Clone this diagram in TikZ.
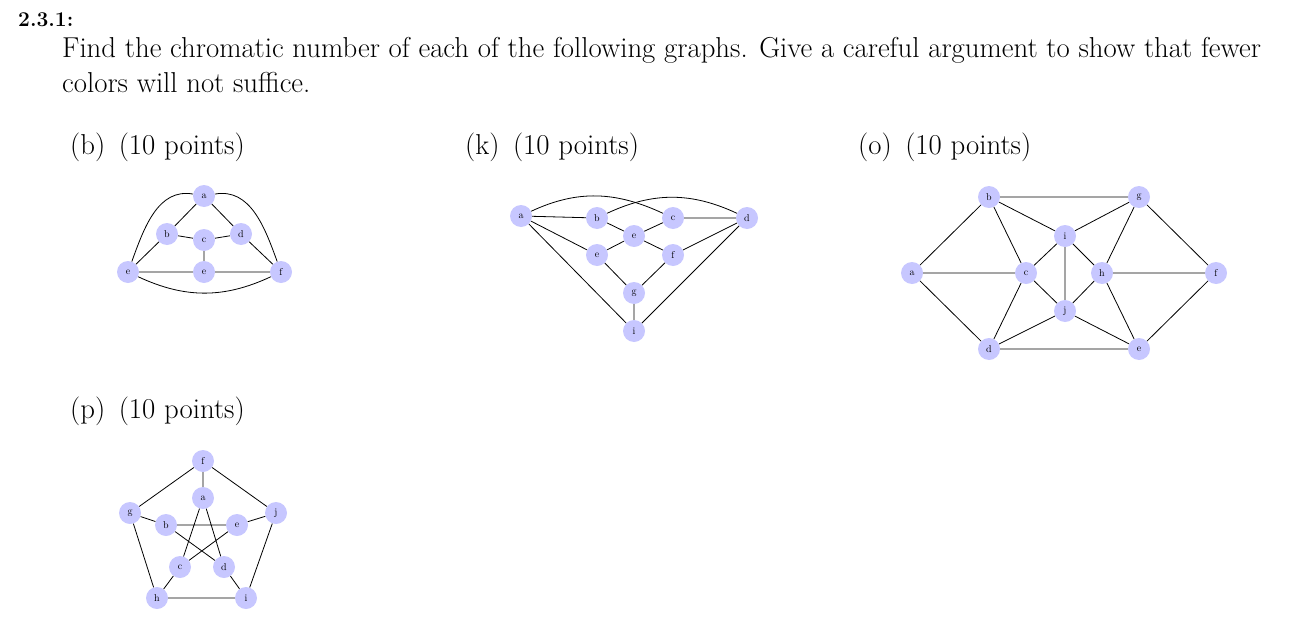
\documentclass[tikz,border=0pt]{standalone}
\begin{document}
\begin{tikzpicture}[x=1pt,y=-1pt,
 v/.style={circle,fill=blue!22,inner sep=0pt,minimum size=22pt,font=\fontsize{10}{10}\selectfont},
 e/.style={line width=0.8pt},
 txt/.style={anchor=west,inner sep=0pt,font=\fontsize{28.8}{33}\selectfont}]
\useasboundingbox (0,0) rectangle (1300,618);
\node[txt,font=\fontsize{21}{25}\selectfont\bfseries] (t0) at (18,20) {2.3.1:};
\node[txt] (t1) at (62,50) {Find the chromatic number of each of the following graphs. Give a careful argument to show that fewer};
\node[txt] (t2) at (62,83) {colors will not suffice.};
\node[txt] (lb) at (70,147) {(b)\, (10 points)};
\node[txt] (lk) at (465,147) {(k)\, (10 points)};
\node[txt] (lo) at (858,147) {(o)\, (10 points)};
\node[txt] (lp) at (70,411) {(p)\, (10 points)};
% (b)
\node[v] (a) at (204,196) {a}; \node[v] (b) at (167,234) {b}; \node[v] (c) at (204,240) {c};
\node[v] (d) at (241,234) {d}; \node[v] (e) at (128,272) {e}; \node[v] (e2) at (204,272) {e};
\node[v] (f) at (281,272) {f};
\draw[e] (a)--(b) (a)--(d) (b)--(c) (c)--(d) (c)--(e2) (b)--(e) (d)--(f) (e)--(e2) (e2)--(f);
\draw[e] (e) to[out=70,in=170] (a); \draw[e] (a) to[out=10,in=110] (f);
\draw[e] (e) to[out=-25,in=-155] (f);
% (k)
\node[v] (ka) at (521,216) {a}; \node[v] (kb) at (597,218) {b}; \node[v] (kc) at (673,218) {c};
\node[v] (kd) at (747,218) {d}; \node[v] (ke) at (634,236) {e}; \node[v] (ke2) at (597,255) {e};
\node[v] (kf) at (673,255) {f}; \node[v] (kg) at (634,293) {g}; \node[v] (ki) at (634,331) {i};
\draw[e] (ka)--(kb) (kc)--(kd) (kb)--(ke) (ke)--(kf) (kc)--(ke) (ke)--(ke2) (ka)--(ke2) (ka)--(ki)
 (kd)--(kf) (kd)--(ki) (ke2)--(kg) (kf)--(kg) (kg)--(ki);
\draw[e] (ka) to[out=25,in=155] (kc); \draw[e] (kb) to[out=25,in=155] (kd);
% (o)
\node[v] (oa) at (912,273) {a}; \node[v] (ob) at (989,197) {b}; \node[v] (oc) at (1026,273) {c};
\node[v] (od) at (989,349) {d}; \node[v] (oe) at (1139,349) {e}; \node[v] (of) at (1216,273) {f};
\node[v] (og) at (1139,197) {g}; \node[v] (oh) at (1102,273) {h}; \node[v] (oi) at (1065,236) {i};
\node[v] (oj) at (1065,311) {j};
\draw[e] (oa)--(ob) (oa)--(oc) (oa)--(od) (ob)--(og) (ob)--(oi) (ob)--(oc) (oc)--(oi) (oc)--(oj)
 (oc)--(od) (od)--(oj) (od)--(oe) (oi)--(og) (oi)--(oj) (oi)--(oh) (oh)--(oj) (og)--(oh) (og)--(of)
 (oh)--(of) (oh)--(oe) (oj)--(oe) (oe)--(of);
% (p)
\node[v] (pf) at (203,461) {f}; \node[v] (pa) at (203,498) {a}; \node[v] (pg) at (130,513) {g};
\node[v] (pb) at (166,525) {b}; \node[v] (pe) at (237,525) {e}; \node[v] (pj) at (276,513) {j};
\node[v] (pc) at (180,567) {c}; \node[v] (pd) at (224,567) {d}; \node[v] (ph) at (157,598) {h};
\node[v] (pi) at (246,598) {i};
\draw[e] (pf)--(pa) (pf)--(pg) (pf)--(pj) (pg)--(pb) (pg)--(ph) (pj)--(pe) (pj)--(pi) (ph)--(pi)
 (pc)--(ph) (pd)--(pi) (pa)--(pc) (pa)--(pd) (pb)--(pe) (pb)--(pd) (pc)--(pe);
\end{tikzpicture}
\end{document}
